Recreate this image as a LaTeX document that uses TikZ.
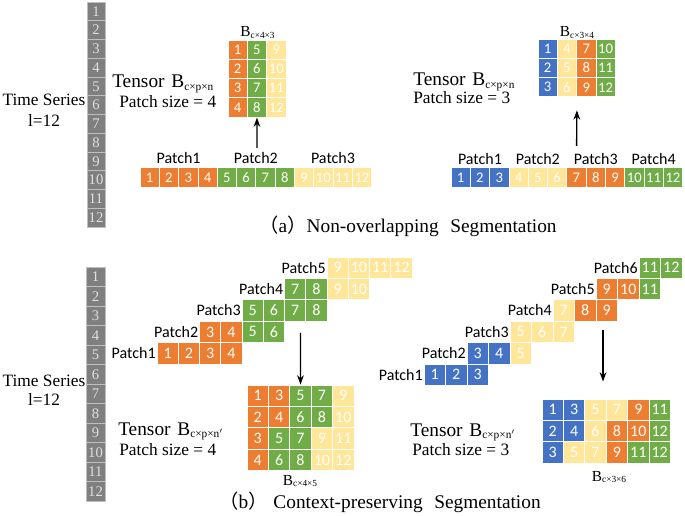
\documentclass[tikz,border=0pt]{standalone}
\usepackage{fontspec}
\setmainfont{Liberation Serif}
\newfontfamily\cellfont{Carlito}
\newfontfamily\cjk{Noto Sans CJK SC}
\usetikzlibrary{arrows.meta}

\definecolor{segO}{HTML}{ED7D31}
\definecolor{segG}{HTML}{70AD47}
\definecolor{segB}{HTML}{4472C4}
\definecolor{segY}{HTML}{FFE699}
\definecolor{segGray}{HTML}{7F7F7F}

\def\Bsub#1#2{B\raisebox{-0.12em}{\fontsize{#2}{#2}\selectfont #1}}

\tikzset{
	sq/.style={draw=white, line width=0.6pt, inner sep=0pt, text=white,
		minimum width=14.475pt, minimum height=14.475pt,
		font=\cellfont\fontsize{11}{11}\selectfont},
	bigsq/.style={sq, minimum width=16.05pt, minimum height=16.05pt,
		font=\cellfont\fontsize{12}{12}\selectfont},
	graysq/.style={draw=white!75!black, line width=0.6pt, fill=segGray, inner sep=0pt,
		text=white!88!black, minimum width=13.5pt, minimum height=14.06pt,
		font=\fontsize{11}{11}\selectfont},
	patchlbl/.style={font=\cellfont\fontsize{12}{12}\selectfont, inner sep=0.5pt},
	serieslbl/.style={anchor=base, inner sep=0pt, font=\fontsize{13}{13}\selectfont},
	tensorlbl/.style={anchor=base west, inner sep=0pt, font=\fontsize{14.5}{14.5}\selectfont},
	sizelbl/.style={anchor=base west, inner sep=0pt, font=\fontsize{13}{13}\selectfont},
	dimlbl/.style={anchor=base, inner sep=0pt, font=\fontsize{11.5}{11.5}\selectfont},
	caplbl/.style={anchor=base, inner sep=0pt, font=\fontsize{14.5}{14.5}\selectfont},
	arr/.style={-{Stealth[length=7pt,width=5pt]}, line width=1pt},
}

\begin{document}
\begin{tikzpicture}[x=0.75pt, y=-0.75pt]
		\useasboundingbox (0,0) rectangle (685,516);
		
		%%%%% (a) NON-OVERLAPPING %%%%%
		
		\foreach \i in {1,...,12}
			\node[graysq] (ga-\i) at (96, {2+18.75*(\i-0.5)}) {\i};
		\node[serieslbl] (tsa) at (44,106) {Time Series};
		\node[serieslbl] (la) at (44,127) {l=12};
		
		% patch size 4
		\foreach \i in {1,...,12} {
			\ifnum\i<5 \def\f{segO}\else\ifnum\i<9 \def\f{segG}\else\def\f{segY}\fi\fi
			\node[sq, fill=\f] (ra-\i) at ({140+19.3*(\i-0.5)}, 177.5) {\i};
		}
		\foreach \k in {1,2,3}
			\node[patchlbl, anchor=base] (pa-\k) at ({140+77.2*(\k-0.5)}, 164) {Patch\k};
		
		\foreach \c/\f in {1/segO,2/segG,3/segY}
			\foreach \r in {1,...,4} {
				\pgfmathtruncatemacro\v{4*\c-4+\r}
				\node[sq, fill=\f] (ta-\c-\r) at ({228+19.3*(\c-0.5)}, {40+19.3*(\r-0.5)}) {\v};
			}
		\node[dimlbl] (da) at (257.5,37) {\Bsub{c×4×3}{7}};
		\node[tensorlbl] (tna) at (112,88) {Tensor\hspace{0.35em}\Bsub{c×p×n}{8.5}};
		\node[sizelbl] (sza) at (119,108) {Patch size = 4};
		
		\coordinate (ua) at (257,148);
		\draw[arr] (ua) -- (ta-2-4.south);
		
		% patch size 3
		\foreach \i in {1,...,12} {
			\ifnum\i<4 \def\f{segB}\else\ifnum\i<7 \def\f{segY}\else\ifnum\i<10 \def\f{segO}\else\def\f{segG}\fi\fi\fi
			\node[sq, fill=\f] (rb-\i) at ({451+19.3*(\i-0.5)}, 177.5) {\i};
		}
		\foreach \k in {1,...,4}
			\node[patchlbl, anchor=base] (pb-\k) at ({451+57.9*(\k-0.5)}, 165) {Patch\k};
		
		\foreach \c/\f in {1/segB,2/segY,3/segO,4/segG}
			\foreach \r in {1,2,3} {
				\pgfmathtruncatemacro\v{3*\c-3+\r}
				\node[sq, fill=\f] (tb-\c-\r) at ({538+19.3*(\c-0.5)}, {39+19.3*(\r-0.5)}) {\v};
			}
		\node[dimlbl] (db) at (577,37) {\Bsub{c×3×4}{7}};
		\node[tensorlbl] (tnb) at (413,86) {Tensor\hspace{0.35em}\Bsub{c×p×n}{8.5}};
		\node[sizelbl] (szb) at (413,104) {Patch size = 3};
		
		\coordinate (ub) at (576.6,146);
		\draw[arr, shorten >=9.75pt] (ub) -- (tb-2-3.south east);
		
		\node[caplbl] (capa) at (408,233) {{\cjk （}a{\cjk ）}Non-overlapping\hspace{0.6em}Segmentation};
		
		%%%%% (b) CONTEXT-PRESERVING %%%%%
		
		\foreach \i in {1,...,12}
			\node[graysq, minimum width=14.25pt, minimum height=14.6pt] (gb-\i) at (95.5, {267+19.5*(\i-0.5)}) {\i};
		\node[serieslbl] (tsb) at (44,387) {Time Series};
		\node[serieslbl] (lb) at (44,406) {l=12};
		
		% patch size 4, stride 2
		\foreach \k in {1,...,5}
			\foreach \j in {0,...,3} {
				\pgfmathtruncatemacro\v{2*\k-1+\j}
				\ifnum\v<5 \def\f{segO}\else\ifnum\v<9 \def\f{segG}\else\def\f{segY}\fi\fi
				\node[bigsq, fill=\f] (sl-\k-\j) at ({157+42.5*(\k-1)+21.25*(\j+0.5)}, {353.3-21.4*(\k-1)}) {\v};
			}
		\foreach \k in {1,...,5}
			\node[patchlbl, anchor=east] (pl-\k) at (sl-\k-0.west) {Patch\k};
		
		\foreach \c in {1,...,5}
			\foreach \r in {1,...,4} {
				\pgfmathtruncatemacro\v{2*\c-2+\r}
				\ifnum\v<5 \def\f{segO}\else\ifnum\v<9 \def\f{segG}\else\def\f{segY}\fi\fi
				\node[bigsq, fill=\f] (tc-\c-\r) at ({247+21.4*(\c-0.5)}, {385+21.4*(\r-0.5)}) {\v};
			}
		\node[dimlbl] (dc) at (300,485) {\Bsub{c×4×5}{7}};
		\node[tensorlbl] (tnc) at (118,435) {Tensor\hspace{0.35em}\Bsub{c×p×n$'$}{8.5}};
		\node[sizelbl] (szc) at (119,455) {Patch size = 4};
		
		\coordinate (uc) at (300.5,333);
		\draw[arr] (uc) -- (tc-3-1.north);
		
		% patch size 3, stride 2
		\foreach \k/\row in {1/{1/segB,2/segB,3/segB}, 2/{3/segB,4/segB,5/segY},
				3/{5/segY,6/segY,7/segY}, 4/{7/segY,8/segO,9/segO},
				5/{9/segO,10/segO,11/segG}, 6/{11/segG,12/segG}}
			\foreach \v/\f [count=\j] in \row
				\node[bigsq, fill=\f] (sr-\k-\j) at ({424+43*(\k-1)+21.5*(\j-0.5)}, {374.7-21.4*(\k-1)}) {\v};
		\foreach \k in {1,...,6}
			\node[patchlbl, anchor=east] (pr-\k) at (sr-\k-1.west) {Patch\k};
		
		\foreach \r/\row in {1/{1/segB,3/segB,5/segY,7/segY,9/segO,11/segG},
				2/{2/segB,4/segB,6/segY,8/segO,10/segO,12/segG},
				3/{3/segB,5/segY,7/segY,9/segO,11/segG,12/segG}}
			\foreach \v/\f [count=\c] in \row
				\node[bigsq, fill=\f] (td-\c-\r) at ({542+21.4*(\c-0.5)}, {399+21.4*(\r-0.5)}) {\v};
		\node[dimlbl] (dd) at (609,481) {\Bsub{c×3×6}{7}};
		\node[tensorlbl] (tnd) at (410,436) {Tensor\hspace{0.35em}\Bsub{c×p×n$'$}{8.5}};
		\node[sizelbl] (szd) at (412,455) {Patch size = 3};
		
		\coordinate (ud) at (603,330);
		\draw[arr, shorten >=12.75pt] (ud) -- (ud |- td-3-1.north);
		
		\node[caplbl] (capb) at (380,508) {{\cjk （}b{\cjk ）}\hspace{0.3em}Context-preserving\hspace{0.6em}Segmentation};
		
		%%%%% END %%%%%
\end{tikzpicture}
\end{document}
